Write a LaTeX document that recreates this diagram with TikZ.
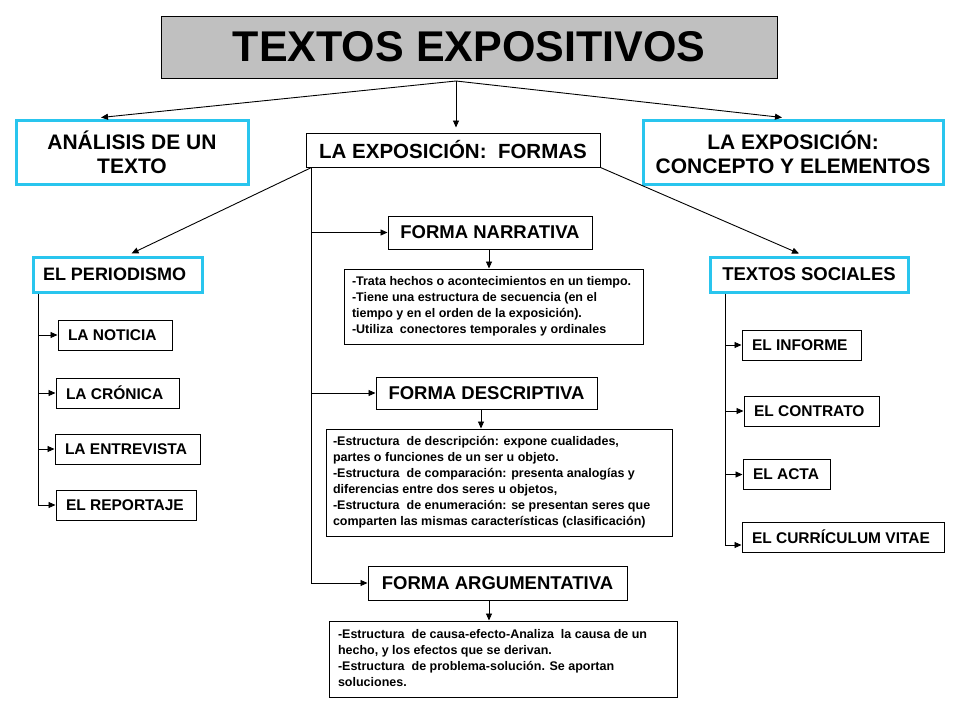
\documentclass[tikz,border=0pt]{standalone}
\usepackage{fontspec}
\setmainfont{Liberation Sans}
\usetikzlibrary{arrows.meta,calc}
\definecolor{cyanb}{RGB}{41,197,238}
\definecolor{titlegray}{RGB}{192,192,192}
\newcommand\lft[2]{\makebox[#1][l]{#2}}
\newcommand\lblock[2]{\makebox[#1][l]{\begin{tabular}{@{}l@{}}#2\end{tabular}}}
\begin{document}
\begin{tikzpicture}[x=1pt,y=-1pt,
  box/.style={draw=black, line width=1pt, fill=white, inner sep=0pt, font=\bfseries},
  cbox/.style={draw=cyanb, line width=3pt, fill=white, inner sep=0pt, font=\bfseries},
  bigtxt/.style={font=\bfseries\fontsize{21}{24}\selectfont},
  midtxt/.style={font=\bfseries\fontsize{18.5}{20}\selectfont},
  smallbox/.style={box, minimum height=30pt, font=\bfseries\fontsize{15.5}{18}\selectfont},
  textbox/.style={box, font=\bfseries\fontsize{12.5}{16}\selectfont},
  arr/.style={-{Triangle[length=7pt,width=6pt]}, line width=0.9pt},
  ln/.style={line width=0.9pt}]
\fill[white] (0,0) rectangle (960,720);
\useasboundingbox (0,0) rectangle (960,720);

% top level
\node[box, fill=titlegray, minimum width=616pt, minimum height=62pt,
      font=\bfseries\fontsize{43}{48}\selectfont] (title) at (469,47) {TEXTOS EXPOSITIVOS};
\node[cbox, bigtxt, minimum width=232pt, minimum height=64pt, align=center] (analisis) at (132,152) {ANÁLISIS DE UN\\TEXTO};
\node[box, minimum width=294pt, minimum height=34pt, font=\bfseries\fontsize{20.5}{24}\selectfont] (formas) at (453,150) {LA EXPOSICIÓN:\ \ FORMAS};
\node[cbox, bigtxt, minimum width=300pt, minimum height=64pt, align=center] (concepto) at (793,152) {LA EXPOSICIÓN:\\CONCEPTO Y ELEMENTOS};

% periodismo
\node[cbox, font=\bfseries\fontsize{18}{20}\selectfont, minimum width=169pt, minimum height=35pt] (periodismo) at (117.5,274.5) {\lft{149pt}{EL PERIODISMO}};
\node[smallbox, minimum width=114pt] (noticia) at (115,335) {\lft{94pt}{LA NOTICIA}};
\node[smallbox, minimum width=123pt] (cronica) at (117.5,393) {\lft{103pt}{LA CRÓNICA}};
\node[smallbox, minimum width=145pt] (entrevista) at (127.5,449) {\lft{125pt}{LA ENTREVISTA}};
\node[smallbox, minimum width=140pt] (reportaje) at (126,505) {\lft{120pt}{EL REPORTAJE}};

% textos sociales
\node[cbox, midtxt, minimum width=198pt, minimum height=35pt] (sociales) at (809,274.5) {TEXTOS SOCIALES};
\node[smallbox, minimum width=119pt] (informe) at (801.5,345) {\lft{99pt}{EL INFORME}};
\node[smallbox, minimum width=135pt] (contrato) at (811.5,411) {\lft{115pt}{EL CONTRATO}};
\node[smallbox, minimum width=87pt] (acta) at (786.5,474.5) {\lft{67pt}{EL ACTA}};
\node[smallbox, minimum width=202pt] (curriculum) at (843,537) {\lft{182pt}{EL CURRÍCULUM VITAE}};

% formas
\node[box, midtxt, minimum width=204pt, minimum height=33pt] (narrativa) at (490,232.5) {FORMA NARRATIVA};
\node[textbox, minimum width=299pt, minimum height=75pt] (narrtext) at (493.5,306.5) {\lblock{283pt}{%
-Trata hechos o acontecimientos en un tiempo.\\
-Tiene una estructura de secuencia (en el\\
tiempo y en el orden de la exposición).\\
-Utiliza\ \ conectores temporales y ordinales}};

\node[box, midtxt, minimum width=221pt, minimum height=32pt] (descriptiva) at (486.5,393) {FORMA DESCRIPTIVA};
\node[textbox, minimum width=346pt, minimum height=107pt] (desctext) at (499,482.5) {\lblock{332pt}{%
-Estructura\ \ de descripción: expone cualidades,\\
partes o funciones de un ser u objeto.\\
-Estructura\ \ de comparación: presenta analogías y\\
diferencias entre dos seres u objetos,\\
-Estructura\ \ de enumeración: se presentan seres que\\
comparten las mismas características (clasificación)}};

\node[box, midtxt, minimum width=259pt, minimum height=34pt] (argumentativa) at (497.5,583) {FORMA ARGUMENTATIVA};
\node[textbox, minimum width=348pt, minimum height=76pt] (argtext) at (503,659) {\lblock{330pt}{%
-Estructura\ \ de causa-efecto-Analiza\ \ la causa de un\\
hecho, y los efectos que se derivan.\\
-Estructura\ \ de problema-solución. Se aportan\\
soluciones.}};

% connectors from title
\coordinate (apex) at ($(title.south)+(-13,2.5)$);
\draw[arr] (apex) -- ($(analisis.north)+(-31,-1)$);
\draw[arr] (apex) -- ($(formas.north)+(3,-5)$);
\draw[arr] (apex) -- ($(concepto.north)+(-11,-1)$);

% from formas
\coordinate (fl) at ($(formas.south west)+(6,0)$);
\draw[arr] (fl) -- ($(periodismo.north)+(14,-2)$);
\draw[arr] (formas.south east) -- ($(sociales.north)+(-10,-2)$);
\draw[arr] (fl |- narrativa.west) -- (narrativa.west);
\draw[arr] (fl |- descriptiva.west) -- (descriptiva.west);
\draw[arr] (fl) |- (argumentativa.west);

\coordinate (na) at ($(narrativa.south)+(-1,0)$);
\draw[arr] (na) -- (na |- narrtext.north);
\coordinate (da) at ($(descriptiva.south)+(-5.5,0)$);
\draw[arr] (da) -- (da |- desctext.north);
\coordinate (aa) at ($(argumentativa.south)+(-8.5,0)$);
\draw[arr] (aa) -- (aa |- argtext.north);

% periodismo trunk
\coordinate (pt) at ($(periodismo.south west)+(7,0)$);
\draw[arr] (pt) |- (reportaje.west);
\draw[arr] (pt |- noticia.west) -- (noticia.west);
\draw[arr] (pt |- cronica.west) -- (cronica.west);
\draw[arr] (pt |- entrevista.west) -- (entrevista.west);

% sociales trunk
\coordinate (st) at ($(sociales.south west)+(17,0)$);
\draw[arr] (st) |- ($(curriculum.west)+(0,8)$);
\draw[arr] (st |- informe.west) -- (informe.west);
\draw[arr] (st |- contrato.west) -- (contrato.west);
\draw[arr] (st |- acta.west) -- (acta.west);
\end{tikzpicture}
\end{document}
